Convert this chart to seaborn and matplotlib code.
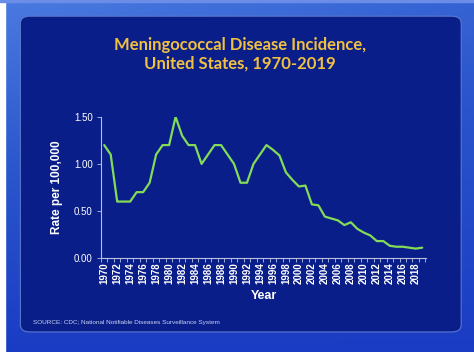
import matplotlib.pyplot as plt
import numpy as np
import pandas as pd
import seaborn as sns
from matplotlib.patches import FancyBboxPatch, Rectangle

# ====== DATA =====
years = list(range(1970, 2020))
rates = [
    1.20, 1.10, 0.60, 0.60, 0.60, 0.70, 0.70, 0.80, 1.10, 1.20,
    1.20, 1.50, 1.30, 1.20, 1.20, 1.00, 1.10, 1.20, 1.20, 1.10,
    1.00, 0.80, 0.80, 1.00, 1.10, 1.20, 1.15, 1.09, 0.91, 0.83,
    0.76, 0.77, 0.57, 0.56, 0.44, 0.42, 0.40, 0.35, 0.38, 0.31,
    0.27, 0.24, 0.18, 0.18, 0.13, 0.12, 0.12, 0.11, 0.10, 0.11,
]
y_ticks = [0.0, 0.5, 1.0, 1.5]
x_label_years = list(range(1970, 2019, 2))

title = "Meningococcal Disease Incidence,\nUnited States, 1970-2019"
source = "SOURCE: CDC; National Notifiable Diseases Surveillance System"

# ====== PLOT =====
sns.set_style("white")
plt.rcParams["font.family"] = ["Liberation Sans", "DejaVu Sans"]

fig = plt.figure(figsize=(4.74, 3.52), dpi=100)

# slide background gradient
bg = fig.add_axes([0, 0, 1, 1], zorder=-10)
gx, gy = np.meshgrid(np.linspace(0, 1, 200), np.linspace(0, 1, 200))
grad = 0.55 * gy + 0.25 * (1 - gx) * gy
bg.imshow(grad, cmap=sns.blend_palette(["#1a3cc4", "#2a55cc", "#4a7ae0"], as_cmap=True),
          extent=[0, 1, 0, 1], aspect="auto", origin="lower", vmin=0, vmax=0.8)
bg.add_patch(Rectangle((0, 0), 0.011, 1, color="white", transform=bg.transAxes))
bg.add_patch(Rectangle((0, 0.994), 1, 0.006, color="#6a8ee8", transform=bg.transAxes))
bg.add_patch(FancyBboxPatch((0.043, 0.057), 0.93, 0.897,
                            boxstyle="round,pad=0,rounding_size=0.02",
                            facecolor="#0a1e8a", edgecolor="#5a78d0", linewidth=0.8,
                            transform=bg.transAxes))
bg.set_xlim(0, 1)
bg.set_ylim(0, 1)
bg.axis("off")

ax = fig.add_axes([0.213, 0.267, 0.686, 0.401])
ax.patch.set_alpha(0)

data = pd.DataFrame({"Year": years, "Rate": rates})
sns.lineplot(data=data, x="Year", y="Rate", color="#82dc58", linewidth=1.6, ax=ax)

ax.set_xlim(1969.6, 2019.6)
ax.set_ylim(0, 1.5)
ax.set_yticks(y_ticks)
ax.set_yticklabels([f"{v:.2f}" for v in y_ticks], fontsize=7, color="white")
ax.set_xticks(x_label_years)
ax.set_xticklabels([str(y) for y in x_label_years], rotation=90, fontsize=7,
                   color="white", fontweight="bold")
ax.set_xticks(np.arange(1969.5, 2020, 1), minor=True)
ax.tick_params(axis="x", which="major", length=0, pad=3)
ax.tick_params(axis="x", which="minor", length=3, color="#b8c0e0", width=0.6,
               direction="out", bottom=True)
ax.tick_params(axis="y", length=3, color="#b8c0e0", width=0.6, direction="out",
               left=True, pad=3)

for side in ["top", "right"]:
    ax.spines[side].set_visible(False)
for side in ["left", "bottom"]:
    ax.spines[side].set_color("#b8c0e0")
    ax.spines[side].set_linewidth(0.8)

ax.set_xlabel("Year", fontsize=9, fontweight="bold", color="white", labelpad=4)
ax.set_ylabel("Rate per 100,000", fontsize=8.5, fontweight="bold", color="white",
              labelpad=8)
ax.grid(False)

fig.text(0.507, 0.845, title, ha="center", va="center", fontsize=12,
         fontweight="bold", color="#f0c040", family=["Lato", "DejaVu Sans"],
         linespacing=1.2)
fig.text(0.07, 0.085, source, ha="left", va="center", fontsize=4.6,
         color="#c8d2f0")

fig.savefig("out.png", dpi=100)
